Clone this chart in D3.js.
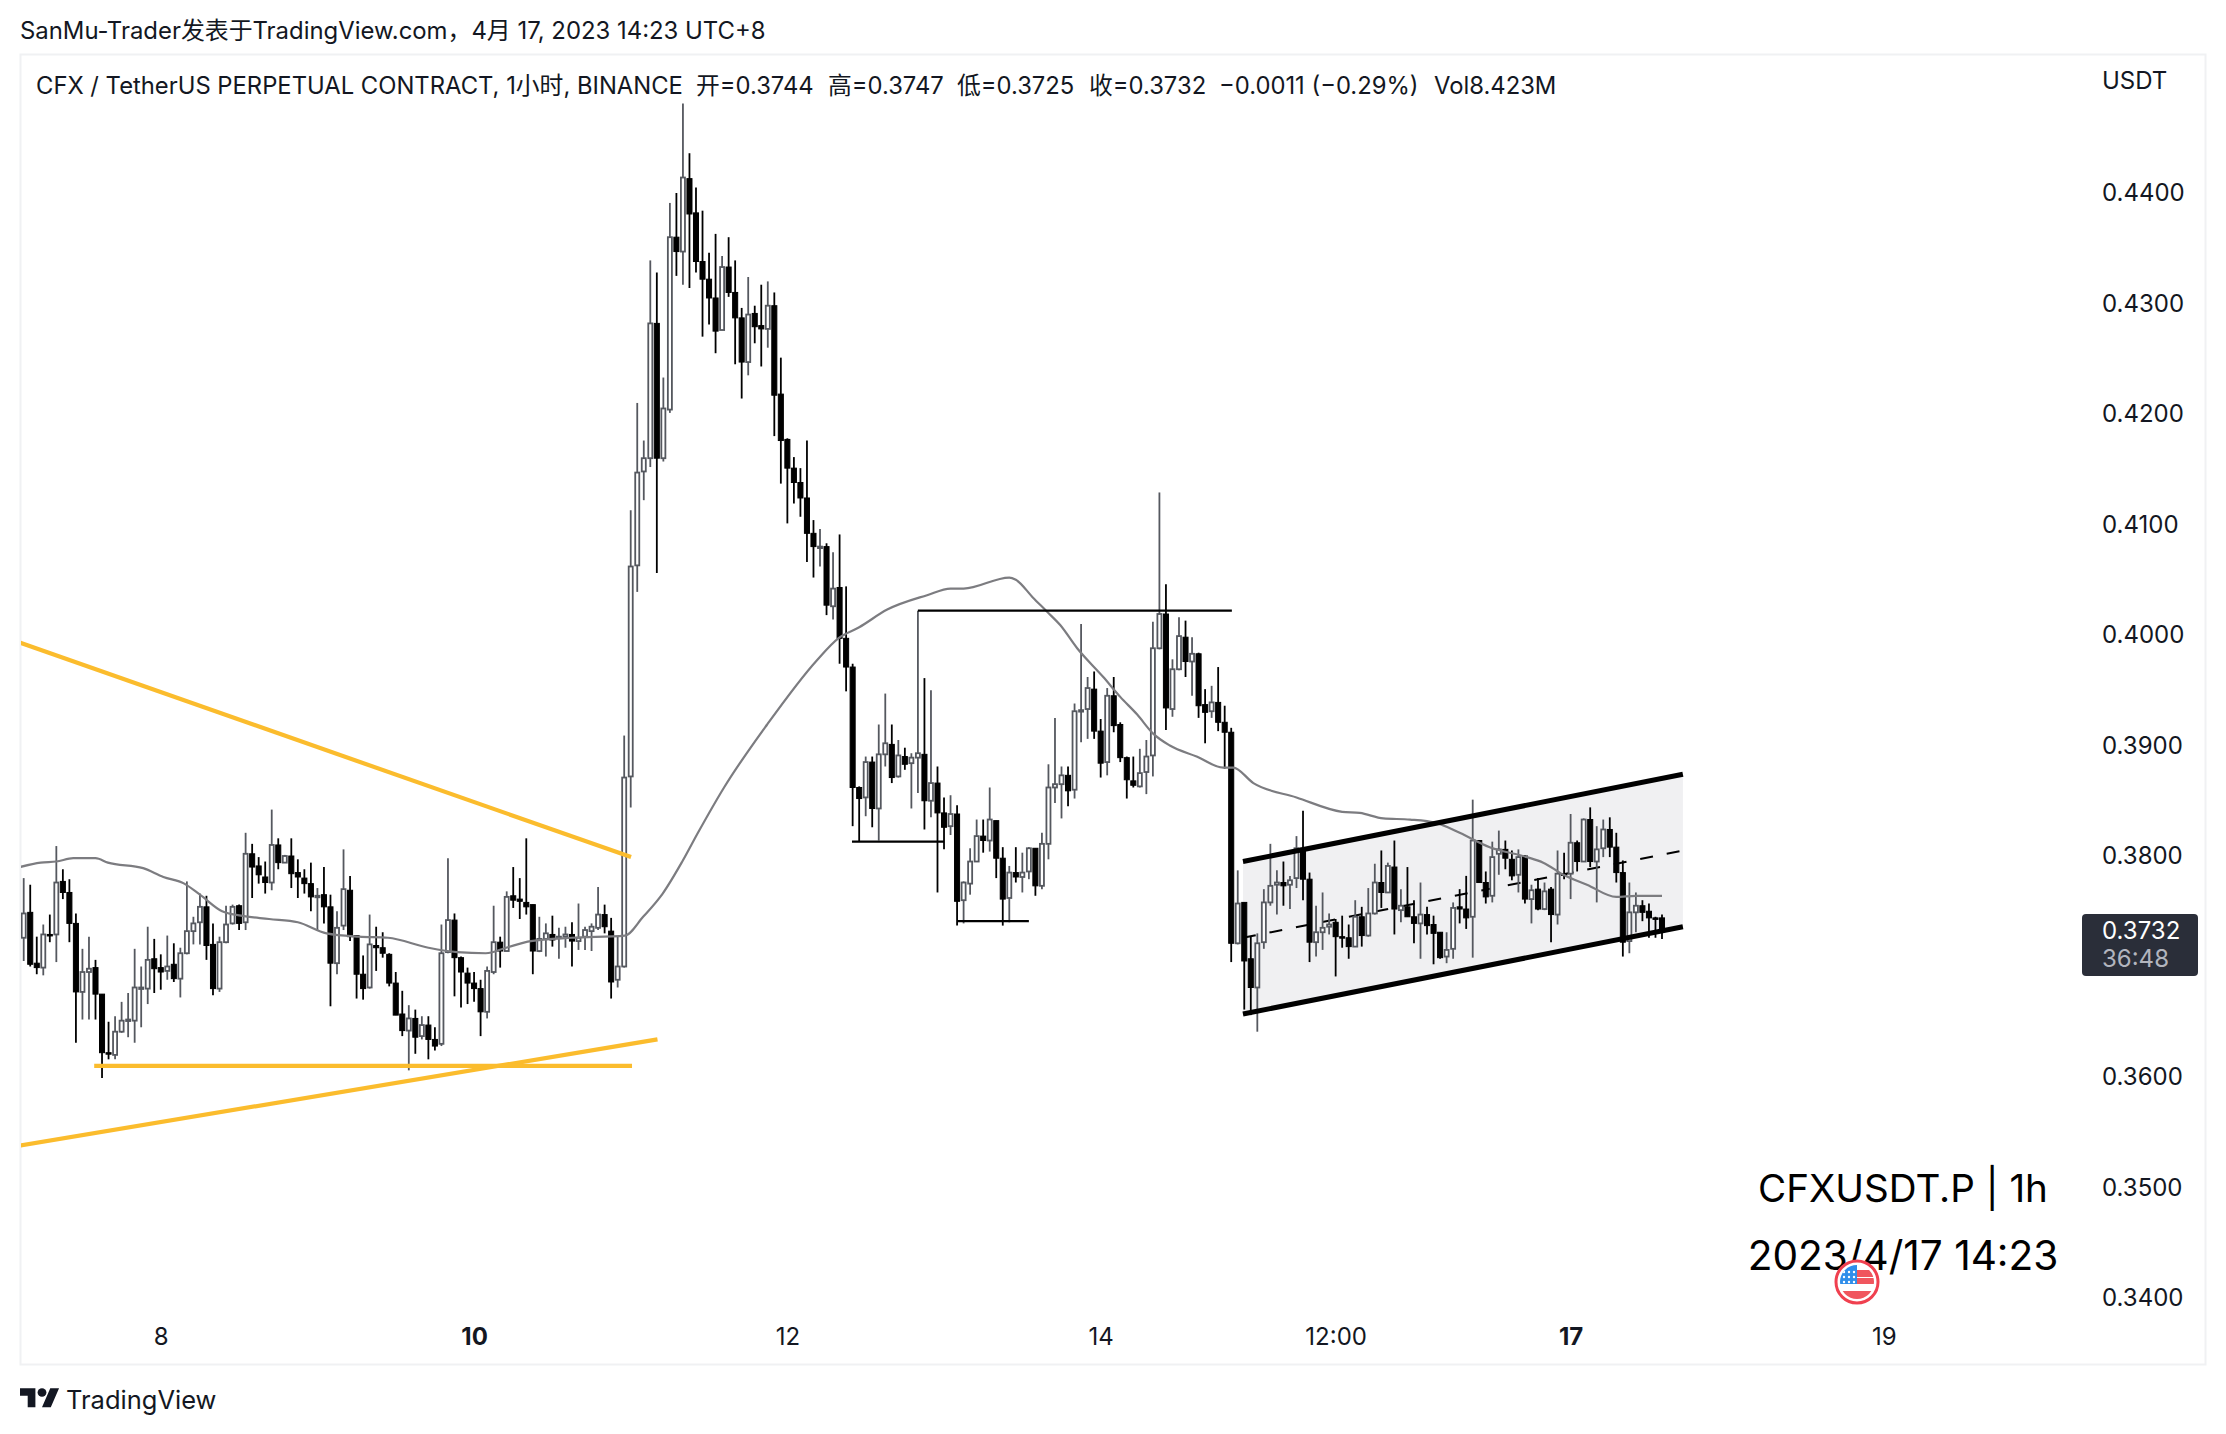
<!DOCTYPE html>
<html><head><meta charset="utf-8">
<script src="https://cdn.jsdelivr.net/npm/d3@7"></script>
<style>html,body{margin:0;padding:0;background:#fff}svg{display:block}text{font-family:Inter,"Noto Sans CJK SC",sans-serif;fill:#131722}</style>
</head><body><svg id="c" width="2226" height="1434"></svg>
<script>
// hourly candles, prices in ten-thousandths of a USDT
const openTicks=[3726,3749,3703,3699,3729,3729,3777,3767,3739,3677,3695,3699,3675,3622,3620,3641,3651,3651,3680,3680,3707,3699,3696,3702,3689,3712,3732,3740,3754,3720,3680,3722,3739,3755,3740,3802,3791,3781,3776,3810,3794,3800,3785,3780,3775,3764,3765,3754,3703,3737,3769,3728,3693,3681,3719,3717,3711,3685,3657,3642,3653,3637,3647,3634,3630,3713,3742,3708,3694,3685,3680,3659,3695,3722,3714,3764,3761,3758,3756,3714,3725,3729,3727,3727,3729,3723,3727,3732,3735,3747,3732,3688,3700,3872,4063,4148,4160,4282,4160,4204,4360,4347,4413,4382,4338,4322,4305,4276,4333,4310,4287,4247,4291,4280,4277,4298,4218,4177,4151,4138,4124,4092,4079,4080,4026,4043,3997,3971,3862,3853,3885,3843,3892,3901,3872,3890,3884,3889,3892,3850,3866,3839,3827,3838,3760,3775,3795,3818,3814,3832,3798,3762,3785,3781,3786,3807,3773,3811,3862,3865,3873,3860,3931,3933,3951,3913,3885,3945,3919,3889,3868,3863,3876,3891,3988,4019,3933,3969,3998,3976,3983,3937,3931,3939,3921,3912,3721,3758,3707,3681,3722,3758,3774,3776,3774,3780,3807,3779,3722,3731,3736,3740,3727,3726,3718,3745,3728,3748,3776,3767,3790,3751,3754,3745,3739,3747,3738,3731,3709,3716,3754,3752,3745,3814,3776,3764,3802,3806,3797,3783,3800,3761,3770,3752,3770,3747,3784,3784,3812,3795,3833,3795,3807,3824,3808,3785,3723,3749,3755,3750,3744,3744];
const closeTicks=[3748,3702,3699,3729,3728,3776,3767,3739,3677,3695,3698,3675,3622,3621,3641,3651,3652,3681,3681,3706,3698,3695,3700,3689,3712,3732,3739,3754,3719,3680,3722,3738,3754,3739,3802,3790,3783,3776,3810,3794,3800,3784,3781,3775,3763,3764,3754,3703,3735,3770,3727,3693,3680,3720,3717,3712,3685,3656,3642,3653,3636,3647,3634,3628,3712,3742,3708,3695,3685,3680,3659,3696,3722,3714,3763,3760,3759,3754,3714,3725,3730,3724,3727,3729,3723,3726,3733,3736,3747,3736,3686,3700,3871,4062,4147,4160,4282,4160,4205,4360,4347,4414,4381,4338,4322,4305,4275,4333,4310,4287,4247,4290,4279,4277,4298,4217,4176,4151,4138,4124,4092,4080,4080,4027,4042,3997,3971,3862,3852,3885,3843,3892,3902,3871,3891,3883,3889,3893,3850,3866,3839,3826,3838,3759,3776,3795,3818,3814,3833,3798,3761,3785,3781,3785,3807,3773,3811,3862,3865,3873,3859,3931,3932,3952,3913,3884,3945,3918,3889,3869,3864,3875,3890,3988,4019,3934,3969,3999,3976,3983,3936,3930,3939,3921,3912,3721,3757,3705,3681,3721,3758,3773,3776,3773,3778,3807,3779,3722,3731,3735,3738,3727,3726,3718,3745,3728,3748,3776,3767,3791,3752,3755,3745,3739,3747,3737,3730,3708,3715,3753,3752,3744,3814,3776,3763,3799,3806,3798,3782,3799,3761,3769,3752,3768,3747,3784,3783,3812,3795,3833,3795,3806,3824,3808,3785,3722,3749,3755,3749,3744,3743,3732];
const highTicks=[3780,3774,3727,3738,3747,3809,3788,3779,3748,3716,3727,3706,3675,3650,3655,3668,3676,3716,3700,3736,3725,3711,3728,3721,3717,3777,3745,3766,3764,3739,3727,3755,3756,3756,3821,3811,3799,3795,3842,3816,3801,3816,3797,3788,3794,3771,3790,3765,3750,3806,3782,3728,3710,3747,3736,3731,3712,3695,3678,3665,3661,3655,3655,3645,3738,3798,3748,3709,3699,3695,3688,3700,3755,3727,3768,3790,3780,3816,3756,3745,3739,3746,3735,3736,3740,3757,3736,3739,3772,3756,3744,3727,3909,4113,4210,4176,4339,4328,4233,4391,4400,4481,4436,4405,4384,4346,4363,4343,4360,4339,4296,4324,4298,4317,4320,4310,4251,4178,4161,4151,4176,4104,4096,4083,4075,4091,4044,3974,3863,3890,3890,3919,3947,3919,3905,3898,3893,4022,3961,3950,3881,3853,3855,3846,3777,3807,3833,3833,3862,3832,3808,3791,3808,3803,3808,3807,3821,3883,3925,3881,3881,3938,4010,3962,3967,3924,3952,3962,3921,3890,3890,3897,3905,4012,4129,4046,3978,4016,4013,3998,3984,3951,3954,3971,3936,3916,3787,3758,3727,3730,3770,3811,3787,3795,3782,3818,3841,3785,3755,3767,3748,3743,3746,3738,3760,3754,3771,3793,3805,3794,3814,3770,3790,3760,3776,3754,3746,3731,3731,3758,3770,3782,3851,3814,3786,3813,3823,3814,3805,3806,3801,3774,3780,3776,3772,3805,3803,3838,3814,3834,3844,3827,3833,3835,3821,3796,3776,3767,3760,3757,3745,3747];
const lowTicks=[3705,3700,3693,3692,3722,3704,3761,3722,3631,3652,3652,3652,3599,3616,3616,3640,3636,3631,3645,3666,3676,3679,3688,3686,3672,3711,3720,3720,3706,3674,3677,3721,3738,3733,3733,3762,3775,3766,3769,3788,3794,3771,3762,3766,3750,3733,3739,3664,3693,3733,3723,3671,3670,3680,3696,3708,3682,3656,3637,3606,3621,3634,3616,3624,3628,3712,3673,3663,3666,3668,3637,3653,3693,3699,3714,3753,3743,3747,3693,3713,3709,3718,3707,3717,3700,3715,3715,3714,3733,3730,3671,3681,3699,3844,4039,4122,4152,4056,4157,4201,4325,4317,4314,4328,4270,4281,4255,4276,4306,4245,4214,4235,4264,4243,4260,4180,4137,4101,4119,4107,4066,4052,4062,4018,4014,3974,3949,3827,3813,3836,3826,3814,3881,3866,3871,3878,3843,3857,3824,3835,3767,3806,3819,3737,3739,3765,3795,3803,3804,3780,3737,3740,3776,3767,3779,3764,3770,3797,3848,3834,3845,3852,3903,3906,3906,3871,3873,3912,3885,3852,3862,3862,3856,3872,3987,3914,3926,3968,3962,3945,3925,3902,3925,3913,3879,3704,3720,3661,3656,3641,3716,3755,3747,3755,3752,3771,3760,3704,3709,3715,3729,3691,3717,3707,3718,3718,3727,3747,3753,3767,3729,3740,3745,3721,3707,3729,3702,3707,3703,3707,3739,3734,3708,3776,3757,3758,3783,3788,3778,3767,3757,3739,3751,3751,3722,3738,3779,3761,3786,3795,3790,3758,3799,3799,3776,3709,3712,3731,3741,3726,3726,3725];
// moving average: bar number, price
const maBars=[0.4,3.6,6,8.6,12,13.9,19.3,22.4,25.6,28,31.4,34.3,38.6,43,47.4,52.4,56.8,63,67.4,71.8,74.9,78.7,85,93.1,95.9,98.9,101.9,104.3,108.3,114.9,122.5,125.8,129,133.3,139.4,143,145,152,153,155.6,157.8,159.8,162.4,166.4,169,171.6,174,176.6,180.7,184.8,186.3,189.4,196,203,205.7,209.3,213.4,217.4,221,225.6,231.3,233.8,236.9,240.5,245,248,252];
const maValues=[3790,3794,3795,3798,3798,3794,3789,3781,3775,3765,3750,3746,3743,3740,3730,3727,3726,3717,3713,3712,3717,3723,3726,3728,3745,3766,3795,3821,3862,3919,3977,3997,4007,4023,4036,4042,4042,4052,4050,4034,4021,4009,3988,3962,3944,3928,3911,3900,3890,3880,3880,3866,3853,3840,3839,3834,3833,3830,3821,3808,3799,3794,3783,3774,3763,3764,3764];
// drawings as [bar1, price1, bar2, price2]
const yellowLines=[[0.43,3993,94.05,3799],[0.43,3538,98.1,3634],[11.8,3610,94.2,3610]];
const blackLines=[[138,4022,186.1,4022],[127.9,3813,142,3813],[144,3741,155,3741]];
const channelUpper=[187.8,3795,255.2,3874];
const channelLower=[187.8,3657,255.2,3736];
const channelMid=[187.8,3726,255.2,3805];
const priceTicks=[.44,.43,.42,.41,.40,.39,.38,.36,.35,.34];
const timeBars=[22,70,118,166,202,238,286];
const timeLabels=["8","10","12","14","12:00","17","19"];
const boldLabels=["10","17"];

const svg=d3.select("#c");
const x=d3.scaleLinear().domain([1,252]).range([23.7,1662]);
const y=d3.scaleLinear().domain([.34,.44]).range([1298,193]);
const yt=v=>y(v/1e4);
const UP="#55585f",DOWN="#000";
const bars=d3.range(252).map(i=>({n:i+1,o:openTicks[i],c:closeTicks[i],h:highTicks[i],l:lowTicks[i]}));

// frame
svg.append("rect").attr("x",20.5).attr("y",54.5).attr("width",2185).attr("height",1310).attr("fill","#fff").attr("stroke","#f0f1f3").attr("stroke-width",2);

svg.append("defs").append("clipPath").attr("id","p").append("rect").attr("x",21).attr("y",55).attr("width",2060).attr("height",1308);
const plot=svg.append("g").attr("clip-path","url(#p)");

// channel fill
plot.append("path").attr("fill","#f0f0f2")
 .attr("d",`M${x(channelUpper[0])},${yt(channelUpper[1])}L${x(channelUpper[2])},${yt(channelUpper[3])}L${x(channelLower[2])},${yt(channelLower[3])}L${x(channelLower[0])},${yt(channelLower[1])}Z`);

const seg=(g,l,col,w)=>g.append("line").attr("x1",x(l[0])).attr("y1",yt(l[1])).attr("x2",x(l[2])).attr("y2",yt(l[3])).attr("stroke",col).attr("stroke-width",w);
seg(plot,channelMid,"#000",2).attr("stroke-dasharray","13 14");

// candles
const bw=(x(2)-x(1))*0.62;
const gs=plot.append("g").selectAll("g").data(bars).join("g");
gs.append("line").attr("x1",d=>x(d.n)).attr("x2",d=>x(d.n)).attr("y1",d=>yt(d.h)).attr("y2",d=>yt(d.l))
 .attr("stroke",d=>d.c>=d.o?UP:DOWN).attr("stroke-width",1.8);
gs.append("rect").attr("x",d=>x(d.n)-bw/2-(d.c>=d.o?0:0.5)).attr("width",d=>d.c>=d.o?bw:bw+1)
 .attr("y",d=>yt(Math.max(d.o,d.c))).attr("height",d=>Math.max(1.5,yt(Math.min(d.o,d.c))-yt(Math.max(d.o,d.c))))
 .attr("fill",d=>d.c>=d.o?"#fff":DOWN).attr("stroke",d=>d.c>=d.o?UP:DOWN).attr("stroke-width",d=>d.c>=d.o?1.8:1);

// moving average
plot.append("path").datum(maBars.map((b,i)=>[b,maValues[i]])).attr("fill","none").attr("stroke","#7c7c80").attr("stroke-width",2.2)
 .attr("d",d3.line().x(d=>x(d[0])).y(d=>yt(d[1])).curve(d3.curveMonotoneX));

// drawings
yellowLines.forEach(l=>seg(plot,l,"#fbbc2d",4.2));
blackLines.forEach(l=>seg(plot,l,"#000",2.2));
seg(plot,channelUpper,"#000",5);
seg(plot,channelLower,"#000",5);

// axes
const yAxis=svg.append("g").attr("transform","translate(2094,0)").call(d3.axisRight(y).tickValues(priceTicks).tickSize(0).tickPadding(8).tickFormat(d3.format(".4f")));
yAxis.select(".domain").remove();
yAxis.selectAll("text").attr("font-size",24).style("font-family",'Inter,sans-serif').style("fill","#131722");
const xAxis=svg.append("g").attr("transform","translate(0,1328)").call(d3.axisBottom(x).tickValues(timeBars).tickSize(0).tickPadding(0).tickFormat((d,i)=>timeLabels[i]));
xAxis.select(".domain").remove();
xAxis.selectAll("text").attr("font-size",24).style("font-family",'Inter,sans-serif').style("fill","#131722")
 .style("font-weight",(d,i)=>boldLabels.includes(timeLabels[i])?"700":"400").attr("dy","0.72em").attr("y",0);

// header texts
const T=(s,px,py,fs,o={})=>{const t=svg.append("text").attr("x",px).attr("y",py).attr("font-size",fs).text(s);
 if(o.anchor)t.attr("text-anchor",o.anchor);if(o.fill)t.style("fill",o.fill);return t;};
T("SanMu-Trader发表于TradingView.com，4月 17, 2023 14:23 UTC+8",20,39,23.9);
const legendTexts=["CFX / TetherUS PERPETUAL CONTRACT, 1小时, BINANCE","开=0.3744","高=0.3747","低=0.3725","收=0.3732","−0.0011 (−0.29%)","Vol8.423M"];
[36,696,828,957,1089,1219,1434].forEach((px,i)=>T(legendTexts[i],px,94,23.8));
T("USDT",2102,89,24);
// price tag
svg.append("rect").attr("x",2082).attr("y",914).attr("width",116).attr("height",62).attr("rx",4).attr("fill","#2a2e39");
T("0.3732",2102,939,24,{fill:"#fff"});
T("36:48",2102,967,24,{fill:"#b2b5be"});
// watermark
T("CFXUSDT.P | 1h",1903,1202,38.6,{anchor:"middle",fill:"#000"});
T("2023/4/17 14:23",1903,1270,40.6,{anchor:"middle",fill:"#000"});
// flag
const f=svg.append("g").attr("transform","translate(1857,1282)");
f.append("defs").append("clipPath").attr("id","fc").append("circle").attr("r",17);
f.append("circle").attr("r",21).attr("fill","#fff").attr("stroke","#f0404f").attr("stroke-width",3);
const fi=f.append("g").attr("clip-path","url(#fc)");
fi.append("rect").attr("x",-17).attr("y",-17).attr("width",34).attr("height",34).attr("fill","#fff");
fi.append("rect").attr("x",0).attr("y",-12).attr("width",17).attr("height",7).attr("fill","#f0565e");
fi.append("rect").attr("x",0).attr("y",-4).attr("width",17).attr("height",6).attr("fill","#f0565e");
fi.append("rect").attr("x",-17).attr("y",9).attr("width",34).attr("height",9).attr("fill","#f0565e");
fi.append("rect").attr("x",-17).attr("y",-17).attr("width",17).attr("height",19).attr("fill","#2f8eea");
d3.range(3).forEach(r=>d3.range(3).forEach(c=>fi.append("circle").attr("cx",-13+c*5).attr("cy",-10+r*5).attr("r",1.2).attr("fill","#fff")));
// logo
const lg=svg.append("g").attr("transform","translate(20,1384) scale(1.1,1.06)").attr("fill","#131722");
lg.append("path").attr("d","M14 22H7V11H0V4h14v18zM28 22h-8l7.5-18h8L28 22z");
lg.append("circle").attr("cx",20).attr("cy",8).attr("r",4);
T("TradingView",66,1409,25.5);
</script></body></html>
